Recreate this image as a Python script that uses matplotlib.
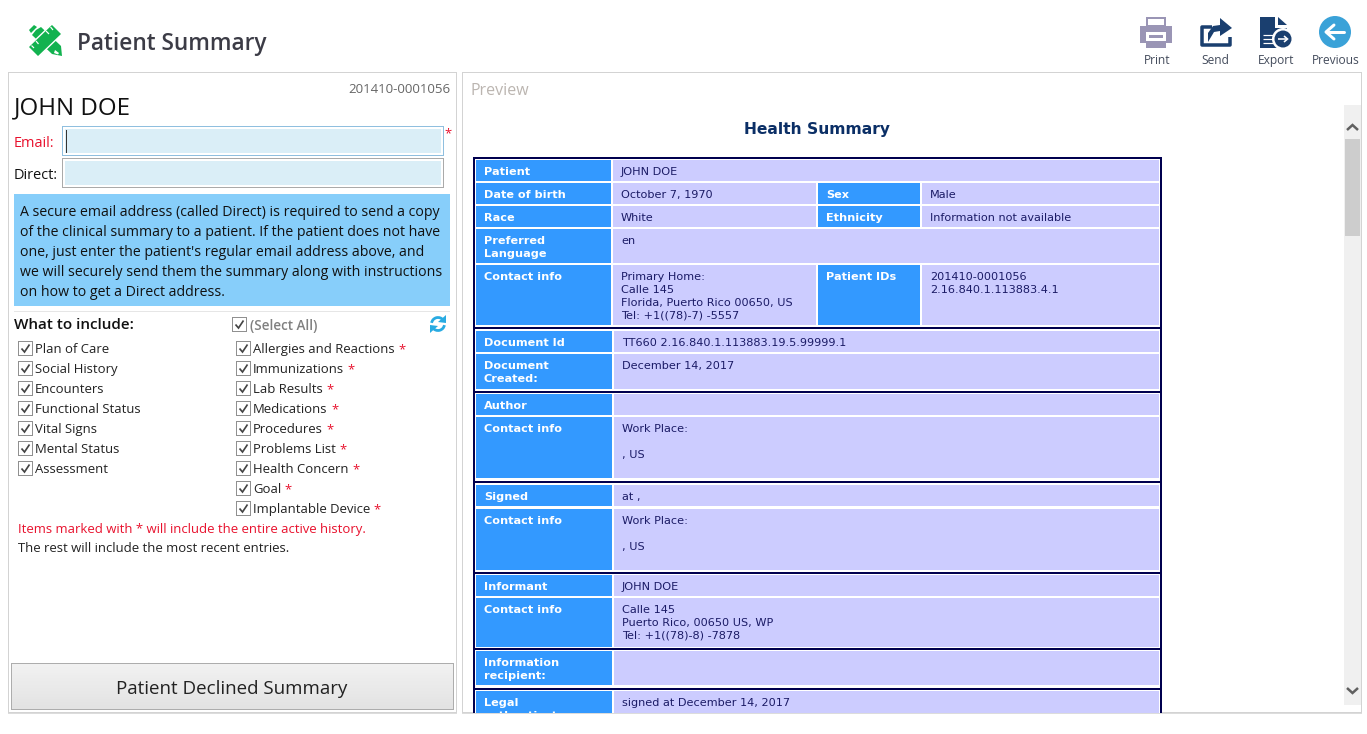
import numpy as np
import matplotlib
matplotlib.use("Agg")
import matplotlib.pyplot as plt
from matplotlib.patches import Rectangle, Polygon, Circle, Arc

UI = "Open Sans"
TB = "DejaVu Sans"

# ---------- content ----------
title = "Patient Summary"
record_id = "201410-0001056"
patient_name = "JOHN DOE"
toolbar_labels = ["Print", "Send", "Export", "Previous"]
info_lines = [
    "A secure email address (called Direct) is required to send a copy",
    "of the clinical summary to a patient. If the patient does not have",
    "one, just enter the patient's regular email address above, and",
    "we will securely send them the summary along with instructions",
    "on how to get a Direct address.",
]
left_items = ["Plan of Care", "Social History", "Encounters", "Functional Status",
              "Vital Signs", "Mental Status", "Assessment"]
right_items = ["Allergies and Reactions", "Immunizations", "Lab Results", "Medications",
               "Procedures", "Problems List", "Health Concern", "Goal", "Implantable Device"]
row_labels = [["Patient"], ["Date of birth"], ["Race"], ["Preferred", "Language"], ["Contact info"],
              ["Document Id"], ["Document", "Created:"], ["Author"], ["Contact info"],
              ["Signed"], ["Contact info"], ["Informant"], ["Contact info"],
              ["Information", "recipient:"], ["Legal", "authenticator"]]
row_values = [["JOHN DOE"], ["October 7, 1970"], ["White"], ["en"],
              ["Primary Home:", "Calle 145", "Florida, Puerto Rico 00650, US", "Tel: +1((78)-7) -5557"],
              ["TT660 2.16.840.1.113883.19.5.99999.1"], ["December 14, 2017"], [],
              ["Work Place:", "", ", US"], ["at ,"], ["Work Place:", "", ", US"], ["JOHN DOE"],
              ["Calle 145", "Puerto Rico, 00650 US, WP", "Tel: +1((78)-8) -7878"], [],
              ["signed at December 14, 2017"]]
side_labels = {1: "Sex", 2: "Ethnicity", 4: "Patient IDs"}
side_values = {1: ["Male"], 2: ["Information not available"],
               4: ["201410-0001056", "2.16.840.1.113883.4.1"]}

# ---------- layout ----------
row_tops = [160, 183, 206, 229, 265, 331, 354, 394, 417, 485, 509, 575, 598, 651, 691]
row_bots = [181, 204, 227, 263, 325, 352, 389, 415, 478, 506, 570, 596, 647, 685, 740]
block_lines = [327, 391, 481, 572, 648, 688]

fig = plt.figure(figsize=(13.67, 7.34), dpi=100, facecolor="white")
ax = fig.add_axes([0, 0, 1, 1])
ax.set_xlim(0, 1367)
ax.set_ylim(734, 0)
ax.axis("off")


def rect(x0, y0, x1, y1, fc, z=1):
    ax.add_patch(Rectangle((x0, y0), x1 - x0, y1 - y0, facecolor=fc, edgecolor="none",
                           linewidth=0, antialiased=False, zorder=z))


def text(x, y, s, px, color="black", weight="normal", ha="left", family=UI, va="baseline", z=5):
    return ax.text(x, y, s, fontsize=px * 0.72, color=color, fontweight=weight, ha=ha,
                   va=va, family=family, zorder=z)


def frame(x0, y0, x1, y1, color, fc=None, w=1, z=2):
    if fc:
        rect(x0, y0, x1, y1, fc, z=z)
    rect(x0, y0, x1, y0 + w, color, z=z)
    rect(x0, y1 - w, x1, y1, color, z=z)
    rect(x0, y0, x0 + w, y1, color, z=z)
    rect(x1 - w, y0, x1, y1, color, z=z)


def line(xs, ys, color, px=1.5, z=4, cap="butt", join="miter"):
    ax.plot(xs, ys, color=color, lw=px * 0.72, solid_capstyle=cap, solid_joinstyle=join, zorder=z)


def poly(pts, fc, z=4, ec="none", lw=0):
    ax.add_patch(Polygon(pts, closed=True, fc=fc, ec=ec, lw=lw, zorder=z))


def check(x, y):
    frame(x, y, x + 15, y + 15, "#909090", fc="white", w=1)
    line([x + 3.5, x + 6.5, x + 11.5], [y + 7.5, y + 11, y + 3.5], "#444444", 1.7, z=5)


# ---------- header ----------
G = "#12b24f"
poly([[36, 30], [41, 27], [61, 46], [62, 56], [52, 54], [32, 35]], G)
poly([[29, 30], [34, 25], [37, 27], [31, 33]], G)
poly([[55, 50], [59, 53], [58, 54.5], [54, 53]], "white", z=5)
poly([[52, 24], [62, 34], [38, 57], [28, 47]], G, z=5, ec="white", lw=1)
for (a, b) in [((50.5, 27), (53, 30)), ((46, 31), (49, 34)), ((36, 41), (38.5, 44)), ((31.5, 45.5), (34, 48))]:
    line([a[0], b[0]], [a[1], b[1]], "white", 1.2, z=6)
text(77, 50, title, 22.6, "#3c3c46", "semibold")

# toolbar
P = "#9a95b5"
rect(1140, 26, 1172, 43, P, z=3)
frame(1146, 17, 1166, 27, P, w=2, z=3)
rect(1146, 32, 1166, 41, "white", z=4)
rect(1149, 35, 1163, 38, P, z=5)
rect(1146, 41, 1166, 48, P, z=4)
B = "#1a3f6f"
line([1212, 1201.5, 1201.5, 1229.5, 1229.5], [26.5, 26.5, 44.5, 44.5, 37], B, 3.5, join="round")
poly([[1220, 18], [1232, 28], [1220, 36], [1220, 31], [1214, 32], [1208, 42],
      [1208, 33], [1213, 26], [1220, 25]], B, z=5)
poly([[1260, 17], [1275, 17], [1275, 28], [1287, 28], [1287, 48], [1260, 48]], B)
poly([[1278, 17], [1287, 25], [1278, 25]], B, z=5)
for yy in (35, 39, 43):
    line([1263, 1273], [yy, yy], "white", 1.2, z=5)
ax.add_patch(Circle((1283, 39), 11, fc="white", ec="none", zorder=5))
ax.add_patch(Circle((1283, 39), 8.5, fc=B, ec="none", zorder=6))
line([1278, 1287], [39, 39], "white", 1.6, z=7)
line([1284, 1287.5, 1284], [36, 39, 42], "white", 1.6, z=7)
ax.add_patch(Circle((1335, 32), 16, fc="#3aa2d8", ec="none", zorder=4))
line([1328, 1344], [32, 32], "white", 3, z=5, cap="round")
line([1334, 1326, 1334], [25, 32, 39], "white", 3, z=5, cap="round", join="round")
for cx, s in zip([1157, 1215.5, 1276.5, 1335.5], toolbar_labels):
    text(cx, 64, s, 12, "#444c5c", ha="center")

# ---------- left panel ----------
frame(8, 72, 457, 713, "#d3d3d3", w=1)
text(450, 93, record_id, 13.2, "#666666", ha="right")
text(14, 114, patient_name, 24, "#111111")
text(14, 147, "Email:", 14.5, "#e8112d")
text(14, 179, "Direct:", 14.5, "#111111")
text(444.5, 137, "*", 13, "#e8112d")
frame(62, 126, 444, 156, "#8fbfdf", fc="white", w=1)
rect(65, 129, 441, 153, "#daeef7", z=3)
rect(66, 130, 67, 153, "#333333", z=5)
frame(62, 158, 444, 188, "#aaaaaa", fc="white", w=1)
rect(65, 161, 441, 185, "#daeef7", z=3)

rect(14, 194, 450, 306, "#87cefa", z=1)
for i, s in enumerate(info_lines):
    text(20, 216 + 20 * i, s, 14.13, "#111111")
rect(14, 311, 450, 312, "#e6e6e6", z=1)

text(14, 329, "What to include:", 15.2, "#111111", "semibold")
check(232, 317)
text(250, 330, "(Select All)", 13.5, "#808080", "semibold")
R = "#29abe2"
ax.add_patch(Arc((438, 324), 13, 13, theta1=190, theta2=320, ec=R, lw=2, zorder=4))
ax.add_patch(Arc((438, 324), 13, 13, theta1=10, theta2=140, ec=R, lw=2, zorder=4))
poly([[446, 315], [446, 323], [438, 322]], R)
poly([[430, 333], [430, 325], [438, 326]], R)

for i, s in enumerate(left_items):
    check(18, 341 + 20 * i)
    text(35, 353 + 20 * i, s, 13.1, "#222222")
fig.canvas.draw()
rend = fig.canvas.get_renderer()
for i, s in enumerate(right_items):
    check(236, 341 + 20 * i)
    t = text(253, 353 + 20 * i, s, 13.1, "#222222")
    xe = t.get_window_extent(rend).x1
    text(xe + 3.5, 353 + 20 * i, "*", 13, "#e8112d")
text(18, 533, "Items marked with * will include the entire active history.", 13.1, "#e8112d")
text(18, 552, "The rest will include the most recent entries.", 13.1, "#222222")

# button
grad = np.linspace(0, 1, 46).reshape(-1, 1)
ax.imshow(grad, extent=(11, 453, 709, 663), aspect="auto", zorder=2,
          cmap=matplotlib.colors.LinearSegmentedColormap.from_list("b", ["#f2f2f2", "#e3e3e3"]))
ax.set_xlim(0, 1367)
ax.set_ylim(734, 0)
frame(11, 663, 454, 710, "#adadad", w=1, z=3)
text(232, 694, "Patient Declined Summary", 18.8, "#222222", ha="center")

# ---------- right panel ----------
frame(462, 72, 1362, 713, "#d3d3d3", w=1)
text(471, 95, "Preview", 16, "#bbb5b0")
text(817.5, 134, "Health Summary", 15.5, "#0b2f66", "bold", ha="center", family=TB)

# table
NAVY = "#00004f"
LAB = "#3399ff"
VAL = "#ccccff"
frame(473, 157, 1162, 740, NAVY, fc="white", w=2)
for y in block_lines:
    rect(474, y, 1162, y + 2, NAVY, z=3)
TXT = "#1b1b66"
for i, (lab, val, t0, b0) in enumerate(zip(row_labels, row_values, row_tops, row_bots)):
    split = 611 if i < 5 else 612
    rect(476, t0, split, b0, LAB, z=3)
    if i in side_labels:
        rect(split + 2, t0, 816, b0, VAL, z=3)
        rect(818, t0, 920, b0, LAB, z=3)
        rect(922, t0, 1159, b0, VAL, z=3)
        text(826, t0 + 15, side_labels[i], 11.2, "white", "bold", family=TB)
        for j, s in enumerate(side_values[i]):
            text(930, t0 + 15 + 13 * j, s, 11.2, TXT, family=TB)
    else:
        rect(split + 2, t0, 1159, b0, VAL, z=3)
    for j, s in enumerate(lab):
        text(484, t0 + 15 + 13 * j, s, 11.2, "white", "bold", family=TB)
    for j, s in enumerate(val):
        text(621 if i < 5 else 622, t0 + 15 + 13 * j, s, 11.2, TXT, family=TB)

# mask below preview
rect(463, 713, 1362, 734, "white", z=8)
rect(462, 713, 1362, 714, "#dcdcdc", z=9)
rect(8, 713, 457, 714, "#dcdcdc", z=9)

# scrollbar
rect(1344, 105, 1361, 705, "#f0f0f0", z=6)
rect(1345, 139, 1360, 236, "#cdcdcd", z=7)
line([1347, 1352.5, 1358], [130, 125, 130], "#606060", 2.5, z=7)
line([1347, 1352.5, 1358], [688, 693, 688], "#606060", 2.5, z=7)

fig.savefig("out.png", dpi=100, facecolor="white")
